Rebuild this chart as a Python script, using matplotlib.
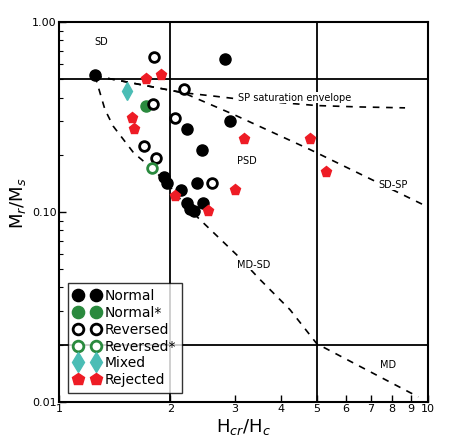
import matplotlib
matplotlib.use("Agg")
import matplotlib.pyplot as plt
from matplotlib.ticker import FixedLocator, NullFormatter, LogLocator

plt.rcParams['font.family'] = ['DejaVu Sans']
plt.rcParams['mathtext.fontset'] = 'dejavusans'

# ---- data (Hcr/Hc, Mr/Ms) ----
normal_x = [1.25, 2.82, 2.91, 2.22, 2.44, 1.92, 1.96, 2.36, 2.14, 2.22, 2.46, 2.26, 2.32]
normal_y = [0.523, 0.635, 0.300, 0.272, 0.211, 0.153, 0.142, 0.142, 0.131, 0.112, 0.112, 0.103, 0.101]

normal_star_x = [1.72]
normal_star_y = [0.360]

reversed_x = [1.81, 2.18, 1.80, 2.06, 1.70, 1.83, 2.60]
reversed_y = [0.657, 0.445, 0.372, 0.313, 0.222, 0.191, 0.142]

reversed_star_x = [1.78]
reversed_star_y = [0.170]

mixed_x = [1.53]
mixed_y = [0.433]

rejected_x = [1.72, 1.89, 1.575, 1.60, 3.18, 4.79, 5.30, 2.99, 2.06, 2.53]
rejected_y = [0.503, 0.523, 0.313, 0.272, 0.243, 0.243, 0.1616, 0.131, 0.121, 0.1006]

# reference curves
sp_env_x = [1.25, 2.17, 2.6, 3.03, 4.0, 5.0, 6.5, 8.68]
sp_env_y = [0.52, 0.424, 0.408, 0.394, 0.376, 0.363, 0.357, 0.353]

sdsp_x = [1.25, 2.17, 2.97, 4.79, 9.73]
sdsp_y = [0.52, 0.424, 0.326, 0.213, 0.109]

mdsd_x = [1.25, 1.33, 1.40, 1.59, 1.78, 1.96, 2.2, 2.435, 3.03, 3.51, 4.23, 5.0, 6.83, 9.43]
mdsd_y = [0.52, 0.346, 0.283, 0.205, 0.170, 0.142, 0.108, 0.0892, 0.0594, 0.0439, 0.0305, 0.0202, 0.0147, 0.0106]

xtick_vals = [1, 2, 3, 4, 5, 6, 7, 8, 9, 10]
ytick_vals = [0.01, 0.10, 1.00]
ytick_labels = ['0.01', '0.10', '1.00']

# ---- figure ----
fig = plt.figure(figsize=(4.74, 4.48), dpi=100)
ax = fig.add_axes([59.3 / 474, 1 - 401.7 / 448, (427.7 - 59.3) / 474, (401.7 - 22) / 448])
ax.set_xscale('log')
ax.set_yscale('log')
ax.set_xlim(1, 10)
ax.set_ylim(0.01, 1.0)

# grid lines of Day plot
ax.axhline(0.5, color='black', lw=1.3, zorder=1)
ax.axhline(0.02, color='black', lw=1.3, zorder=1)
ax.axvline(2, color='black', lw=1.3, zorder=1)
ax.axvline(5, color='black', lw=1.3, zorder=1)

dash = (0, (4, 4))
ax.plot(sp_env_x, sp_env_y, color='black', lw=1.2, ls=dash, zorder=2)
ax.plot(sdsp_x, sdsp_y, color='black', lw=1.2, ls=dash, zorder=2)
ax.plot(mdsd_x, mdsd_y, color='black', lw=1.2, ls=dash, zorder=2)

green = '#2a8a3e'
cyan = '#4bbdb5'
red = '#ee1c25'
ms = 8

ax.plot(normal_x, normal_y, 'o', color='black', mec='black', ms=ms, ls='none', label='Normal', zorder=4)
ax.plot(normal_star_x, normal_star_y, 'o', color=green, mec=green, ms=ms, ls='none', label='Normal*', zorder=4)
ax.plot(reversed_x, reversed_y, 'o', mfc='white', mec='black', mew=2, ms=7, ls='none', label='Reversed', zorder=5)
ax.plot(reversed_star_x, reversed_star_y, 'o', mfc='white', mec=green, mew=2, ms=7, ls='none', label='Reversed*', zorder=5)
ax.plot(mixed_x, mixed_y, 'd', color=cyan, mec=cyan, ms=ms + 1, ls='none', label='Mixed', zorder=4)
ax.plot(rejected_x, rejected_y, 'p', color=red, mec=red, ms=ms, ls='none', label='Rejected', zorder=4)

# region labels
fs = 7
ax.text(1.30, 0.78, 'SD', fontsize=fs, ha='center', va='center')
ax.text(3.06, 0.40, 'SP saturation envelope', fontsize=fs, ha='left', va='center',
        bbox=dict(facecolor='white', edgecolor='none', pad=0.3))
ax.text(3.23, 0.185, 'PSD', fontsize=fs, ha='center', va='center')
ax.text(8.07, 0.139, 'SD-SP', fontsize=fs, ha='center', va='center',
        bbox=dict(facecolor='white', edgecolor='none', pad=0.3))
ax.text(3.36, 0.0527, 'MD-SD', fontsize=fs, ha='center', va='center',
        bbox=dict(facecolor='white', edgecolor='none', pad=0.3))
ax.text(7.82, 0.0156, 'MD', fontsize=fs, ha='center', va='center')

# ticks
ax.set_xticks(xtick_vals)
ax.set_xticklabels([str(v) for v in xtick_vals])
ax.xaxis.set_minor_locator(FixedLocator([]))
ax.set_yticks(ytick_vals)
ax.set_yticklabels(ytick_labels)
ax.yaxis.set_minor_locator(LogLocator(base=10, subs=range(2, 10)))
ax.yaxis.set_minor_formatter(NullFormatter())
ax.tick_params(which='both', direction='in', top=False, right=False, labelsize=8, pad=2)
ax.tick_params(which='major', length=5, width=1)
ax.tick_params(which='minor', length=3, width=0.8)
for s in ax.spines.values():
    s.set_linewidth(1.5)

ax.set_xlabel(r'$\mathrm{H}_{cr}/\mathrm{H}_{c}$', fontsize=13, labelpad=2)
ax.set_ylabel(r'$\mathrm{M}_{r}/\mathrm{M}_{s}$', fontsize=13)
ax.yaxis.set_label_coords(-0.085, 0.523)

leg = ax.legend(loc='lower left', numpoints=2, fontsize=10, frameon=True, fancybox=False,
                handletextpad=0.3, handlelength=1.9, labelspacing=0.2, borderpad=0.45,
                borderaxespad=0.6, markerscale=1.1)
leg.get_frame().set_edgecolor('black')
leg.get_frame().set_linewidth(1.0)

fig.savefig('out.png', dpi=100)
